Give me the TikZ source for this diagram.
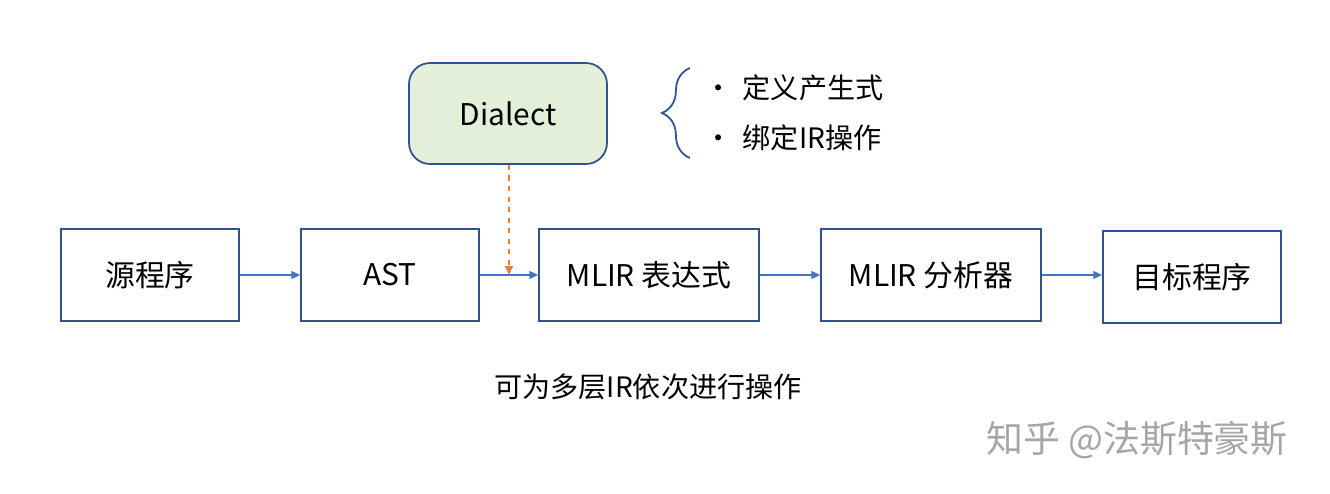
\documentclass[tikz,border=0pt]{standalone}
\usepackage{fontspec}
\setmainfont{Noto Sans CJK SC}
\usetikzlibrary{arrows.meta,decorations.pathreplacing}
\definecolor{bord}{HTML}{2F528F}
\definecolor{arr}{HTML}{4472C4}
\definecolor{gfill}{HTML}{E2EFD9}
\definecolor{dash}{HTML}{ED7D31}
\begin{document}
\begin{tikzpicture}[x=0.02cm,y=-0.02cm,
  box/.style={draw=bord,line width=1pt,minimum height=92*0.02cm,font=\fontsize{17}{20}\selectfont,inner sep=0pt},
  con/.style={draw=arr,line width=0.8pt,-{Triangle[length=5pt,width=4.5pt]}}]
\useasboundingbox (0,0) rectangle (1330,494);
\node[box,minimum width=178*0.02cm] (src) at (150,275) {源程序};
\node[box,minimum width=178*0.02cm] (ast) at (390,275) {AST};
\node[box,minimum width=220*0.02cm] (expr) at (649,275) {MLIR 表达式};
\node[box,minimum width=220*0.02cm] (ana) at (931,275) {MLIR 分析器};
\node[box,minimum width=178*0.02cm] (tgt) at (1192,277) {目标程序};
\node[box,fill=gfill,rounded corners=12pt,minimum width=198*0.02cm,minimum height=101*0.02cm] (dia) at (508,113.5) {Dialect};
\draw[con] (src) -- (ast);
\draw[con] (ast) -- (expr);
\draw[con] (expr) -- (ana);
\draw[con] (ana.east) -- (tgt.west|-ana.east);
\coordinate (dt) at (509,275);
\draw[draw=dash,line width=0.8pt,dashed,-{Triangle[length=5pt,width=4.5pt]}] (dia.south-|dt) -- (dt);
\draw[draw=bord,line width=1pt,decorate,decoration={brace,amplitude=16pt}] (690,158) -- (690,68);
\node[font=\fontsize{16}{18}\selectfont,anchor=west] (b1) at (698,88) {•\hspace{6pt}定义产生式};
\node[font=\fontsize{16}{18}\selectfont,anchor=west] (b2) at (698,138) {•\hspace{6pt}绑定IR操作};
\node[font=\fontsize{16}{18}\selectfont] (cap) at (648,387) {可为多层IR依次进行操作};
\node[font=\fontsize{21}{24}\selectfont,text=gray!70] (wm) at (1137,440) {知乎 @法斯特豪斯};
\end{tikzpicture}
\end{document}
